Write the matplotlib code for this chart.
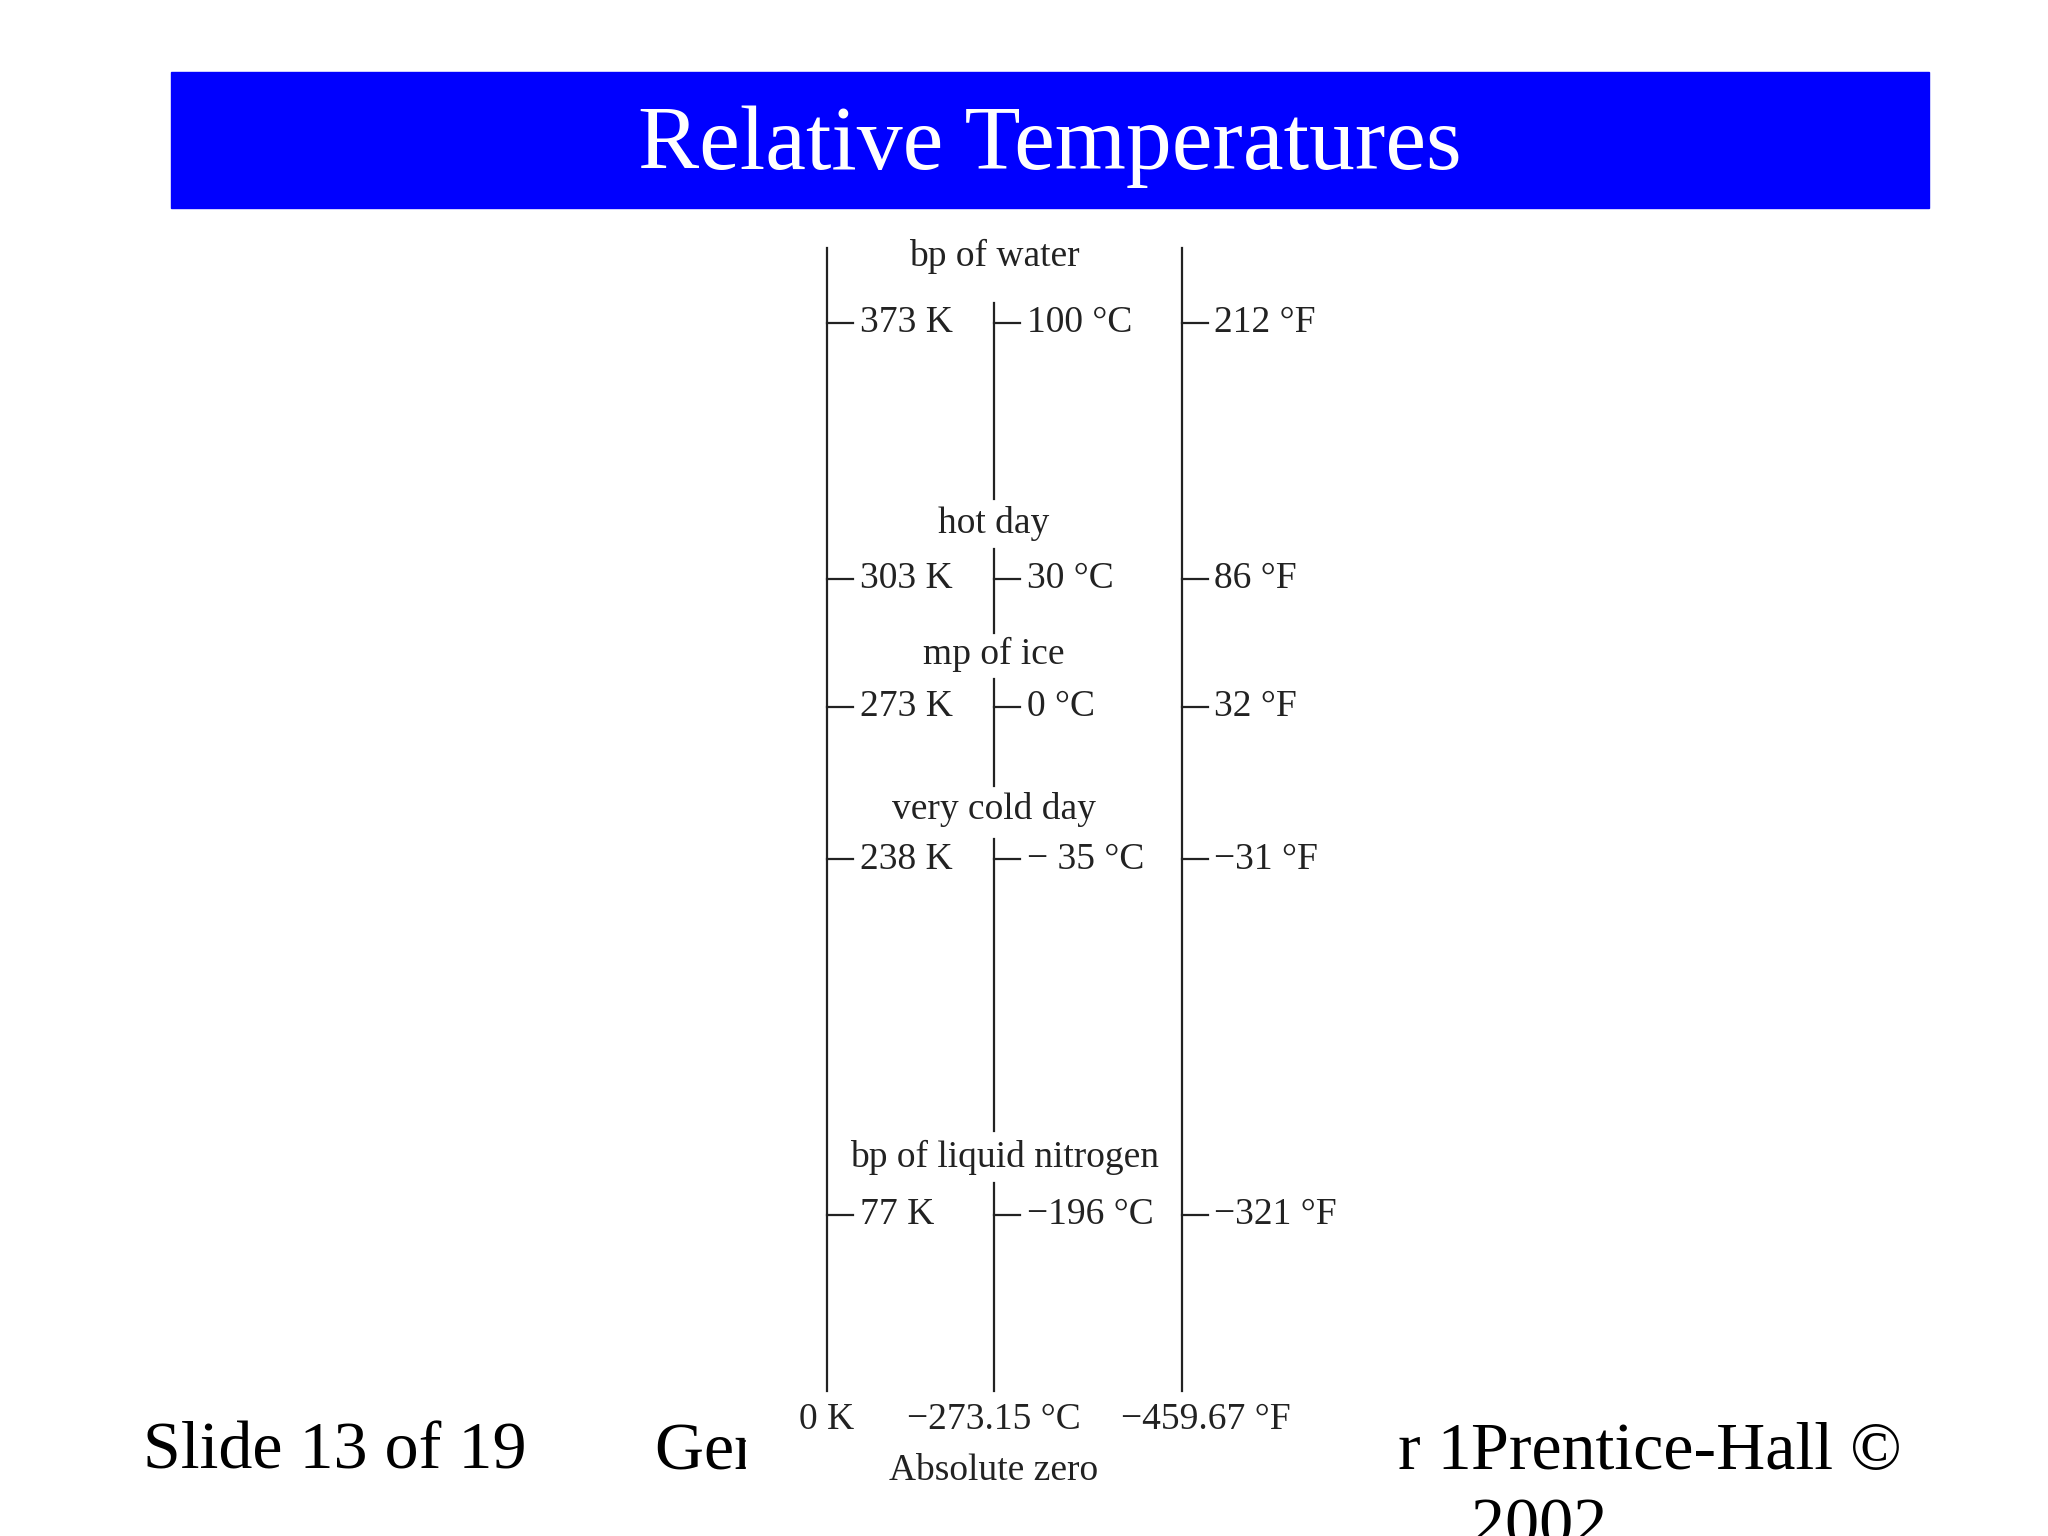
import matplotlib
matplotlib.use("Agg")
import matplotlib.pyplot as plt
import numpy as np
from matplotlib.patches import Rectangle

kelvin = [373, 303, 273, 238, 77, 0]
celsius = ["100 °C", "30 °C", "0 °C", "\u2212 35 °C", "\u2212196 °C", "\u2212273.15 °C"]
fahrenheit = ["212 °F", "86 °F", "32 °F", "\u221231 °F", "\u2212321 °F", "\u2212459.67 °F"]
k_labels = ["373 K", "303 K", "273 K", "238 K", "77 K", "0 K"]
names = ["bp of water", "hot day", "mp of ice", "very cold day", "bp of liquid nitrogen", "Absolute zero"]

# schematic (non-linear) display scale: kelvin -> vertical position
scale_k = [0, 77, 238, 273, 303, 373]
scale_y = [1065, 930, 658, 541, 443, 247]
def ypos(k):
    return np.interp(k, scale_k, scale_y)

fig = plt.figure(figsize=(20.48, 15.36), dpi=100)
ax = fig.add_axes([0, 0, 1, 1])
ax.set_xlim(0, 1570)
ax.set_ylim(1176, 0)
ax.axis("off")
serif = "Liberation Serif"
col = "#222222"

# footer
fkw = dict(fontsize=49, family=serif, va="center", zorder=1)
ax.text(110, 1112, "Slide 13 of 19", ha="left", **fkw)
ax.text(815, 1112, "General Chemistry: Chapter 1", ha="center", **fkw)
ax.text(1128, 1112, "Prentice-Hall ©", ha="left", **fkw)
ax.text(1128, 1170, "2002", ha="left", **fkw)
ax.add_patch(Rectangle((572, 178), 500, 990, color="white", zorder=2))

# title bar
ax.add_patch(Rectangle((131, 55), 1348, 104, color="#0000FF", zorder=3))
ax.text(805, 112, "Relative Temperatures", fontsize=66, family=serif, color="white",
        ha="center", va="center", zorder=4)

xK, xC, xF = 634, 762, 906
top = 190
bot = ypos(0)
ax.plot([xK, xK], [top, bot], color=col, lw=1.6, zorder=5)
ax.plot([xF, xF], [top, bot], color=col, lw=1.6, zorder=5)
# C line with gaps for the names
cseg = [(232, 382), (420, 485), (520, 602), (642, 866), (906, bot)]
for a, b in cseg:
    ax.plot([xC, xC], [a, b], color=col, lw=1.6, zorder=5)

name_off = [51, 42, 40, 38, 44]
fs = 27
for i, k in enumerate(kelvin[:-1]):
    y = ypos(k)
    for x in (xK, xC, xF):
        ax.plot([x, x + 20], [y, y], color=col, lw=1.6, zorder=5)
    ax.text(xK + 25, y, k_labels[i], fontsize=fs, family=serif, color=col, va="center", zorder=6)
    ax.text(xC + 25, y, celsius[i], fontsize=fs, family=serif, color=col, va="center", zorder=6)
    ax.text(xF + 25, y, fahrenheit[i], fontsize=fs, family=serif, color=col, va="center", zorder=6)
    ax.text(xC + (8 if i == 4 else 0), y - name_off[i], names[i], fontsize=fs, family=serif,
            color=col, ha="center", va="center", zorder=6)

ax.text(xK, 1087, k_labels[-1], fontsize=fs, family=serif, color=col, ha="center", va="center", zorder=6)
ax.text(xC, 1087, celsius[-1], fontsize=fs, family=serif, color=col, ha="center", va="center", zorder=6)
ax.text(xF + 18, 1087, fahrenheit[-1], fontsize=fs, family=serif, color=col, ha="center", va="center", zorder=6)
ax.text(xC, 1126, names[-1], fontsize=fs, family=serif, color=col, ha="center", va="center", zorder=6)

fig.savefig("out.png", dpi=100, facecolor="white")
